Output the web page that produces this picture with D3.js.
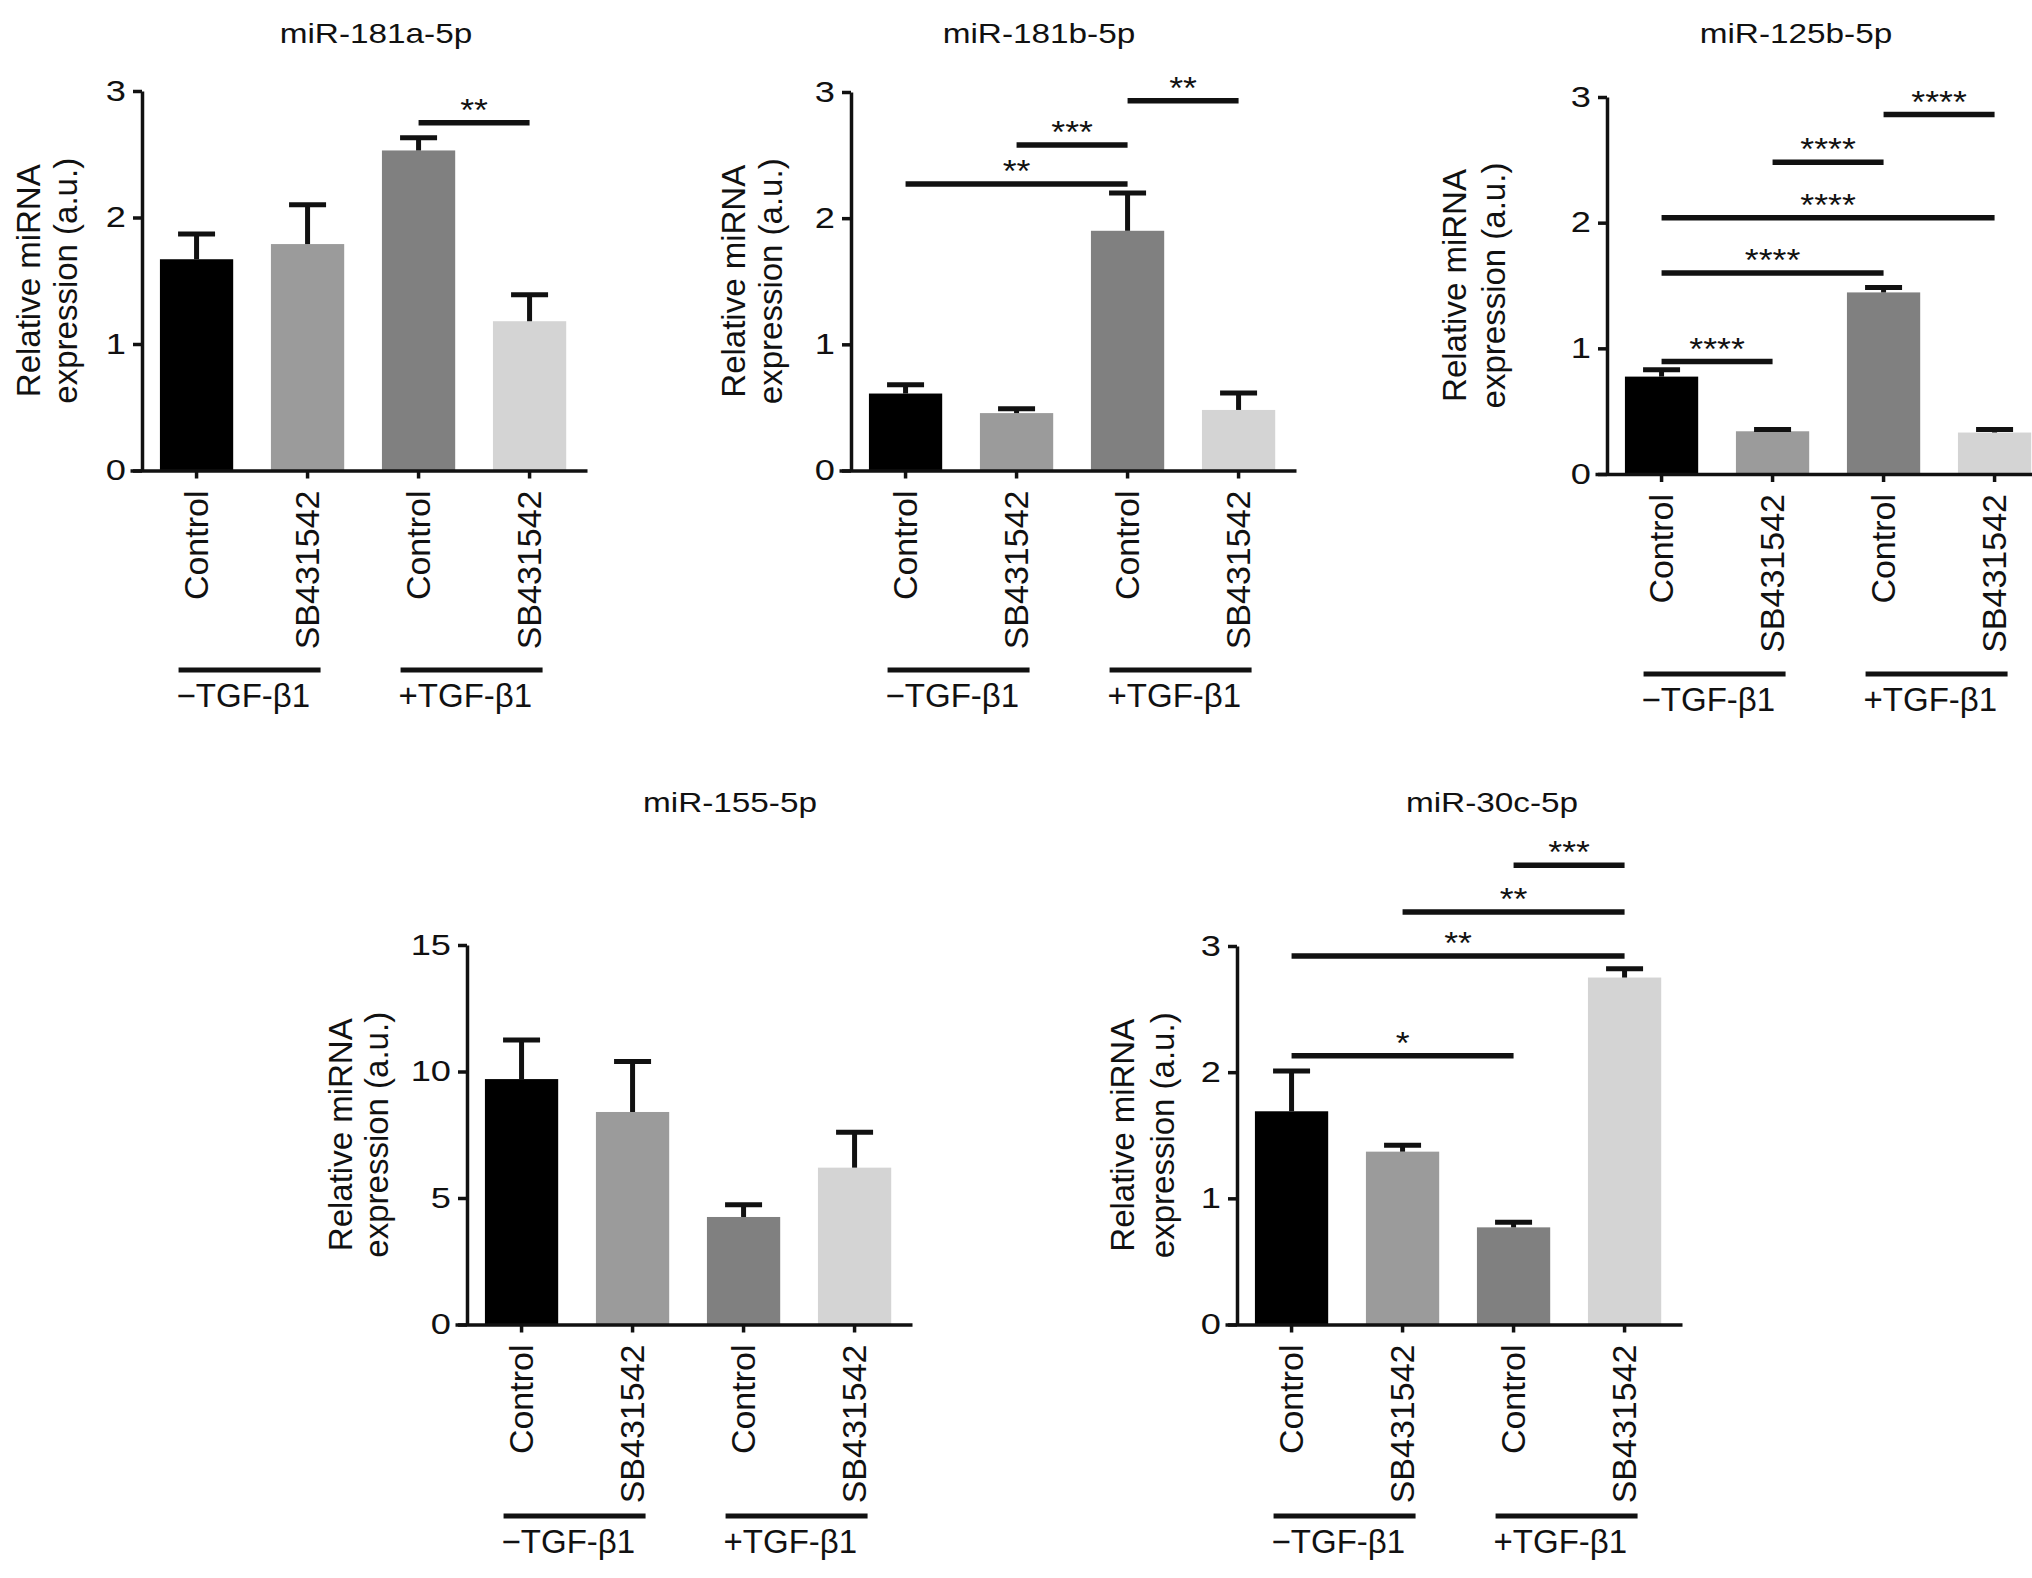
<!DOCTYPE html>
<html lang="en">
<head>
<meta charset="UTF-8">
<title>miRNA expression</title>
<script src="https://cdn.jsdelivr.net/npm/d3@7"></script>
<style>
  body { margin: 0; background: #fff; }
  svg text { font-family: "Liberation Sans", Arial, Helvetica, sans-serif; fill: #111; }
  .axis path, .axis line { stroke: #111; stroke-width: 3.5; fill: none; }
</style>
</head>
<body>
<script>
// data
const categories = ["Control", "SB431542", "Control", "SB431542"];
const groupLabels = ["\u2212TGF-\u03b21", "+TGF-\u03b21"];
const titles = ["miR-181a-5p", "miR-181b-5p", "miR-125b-5p", "miR-155-5p", "miR-30c-5p"];
const ticks3 = [0, 1, 2, 3];
const ticks15 = [0, 5, 10, 15];

const mean181a = [1.67, 1.79, 2.53, 1.18];
const sem181a  = [0.20, 0.31, 0.10, 0.21];
const sig181a  = [[2, 3, 2.75, "**"]];

const mean181b = [0.61, 0.455, 1.90, 0.48];
const sem181b  = [0.07, 0.035, 0.30, 0.135];
const sig181b  = [[2, 3, 2.93, "**"], [1, 2, 2.58, "***"], [0, 2, 2.27, "**"]];

const mean125b = [0.775, 0.34, 1.445, 0.33];
const sem125b  = [0.055, 0.015, 0.04, 0.025];
const sig125b  = [[2, 3, 2.86, "****"], [1, 2, 2.48, "****"], [0, 3, 2.04, "****"],
                  [0, 2, 1.60, "****"], [0, 1, 0.895, "****"]];

const mean155 = [9.7, 8.4, 4.25, 6.2];
const sem155  = [1.55, 2.0, 0.48, 1.4];
const sig155  = [];

const mean30c = [1.69, 1.37, 0.77, 2.75];
const sem30c  = [0.32, 0.05, 0.04, 0.07];
const sig30c  = [[2, 3, 3.64, "***"], [1, 3, 3.27, "**"], [0, 3, 2.92, "**"], [0, 2, 2.13, "*"]];

const barColors = ["#000000", "#9b9b9b", "#808080", "#d4d4d4"];

// panel placement
const panels = [
  {title: titles[0], mean: mean181a, sem: sem181a, sig: sig181a, ticks: ticks3,
   x: 142, y0: 470.5, yTop: 91, titleX: 376, titleY: 43, labelX: [28, 65], groupY: 670},
  {title: titles[1], mean: mean181b, sem: sem181b, sig: sig181b, ticks: ticks3,
   x: 851, y0: 470.5, yTop: 92, titleX: 1039, titleY: 43, labelX: [733, 770], groupY: 670},
  {title: titles[2], mean: mean125b, sem: sem125b, sig: sig125b, ticks: ticks3,
   x: 1607, y0: 474, yTop: 97, titleX: 1796, titleY: 43, labelX: [1454, 1493], groupY: 674},
  {title: titles[3], mean: mean155, sem: sem155, sig: sig155, ticks: ticks15,
   x: 467, y0: 1324.5, yTop: 945, titleX: 730, titleY: 812, labelX: [340, 376], groupY: 1516},
  {title: titles[4], mean: mean30c, sem: sem30c, sig: sig30c, ticks: ticks3,
   x: 1237, y0: 1324.5, yTop: 946, titleX: 1492, titleY: 812, labelX: [1122, 1162], groupY: 1516}
];

const svg = d3.select("body").append("svg")
  .attr("width", 2032).attr("height", 1578);
svg.append("rect").attr("width", 2032).attr("height", 1578).attr("fill", "#fff");

panels.forEach(p => {
  const g = svg.append("g");
  const idx = d3.range(p.mean.length);

  const x = d3.scaleBand().domain(idx)
    .range([p.x - 12, p.x + 445])
    .paddingInner(0.34).paddingOuter(0.2285).align(0.59);
  const y = d3.scaleLinear().domain([0, d3.max(p.ticks)]).range([p.y0, p.yTop]);
  const cx = i => x(i) + x.bandwidth() / 2;

  // bars
  g.selectAll(".bar").data(idx).enter().append("rect")
    .attr("x", i => x(i))
    .attr("y", i => y(p.mean[i]))
    .attr("width", x.bandwidth())
    .attr("height", i => y(0) - y(p.mean[i]))
    .attr("fill", i => barColors[i]);

  // upper error bars
  g.selectAll(".err").data(idx).enter().append("line")
    .attr("x1", cx).attr("x2", cx)
    .attr("y1", i => y(p.mean[i])).attr("y2", i => y(p.mean[i] + p.sem[i]))
    .attr("stroke", "#111").attr("stroke-width", 5);
  g.selectAll(".cap").data(idx).enter().append("line")
    .attr("x1", i => cx(i) - 18.5).attr("x2", i => cx(i) + 18.5)
    .attr("y1", i => y(p.mean[i] + p.sem[i])).attr("y2", i => y(p.mean[i] + p.sem[i]))
    .attr("stroke", "#111").attr("stroke-width", 5);

  // axes
  const yAxis = g.append("g").attr("class", "axis")
    .attr("transform", `translate(${p.x},0)`)
    .call(d3.axisLeft(y).tickValues(p.ticks).tickFormat(d3.format("d"))
      .tickSize(9).tickSizeOuter(0));
  // glyphs in the figure are drawn a bit wide
  yAxis.selectAll("text")
    .attr("x", 0)
    .attr("transform", "translate(-16,0) scale(1.25,1)")
    .style("font-size", "29px").attr("fill", "#111");

  const xAxis = g.append("g").attr("class", "axis")
    .attr("transform", `translate(0,${p.y0})`)
    .call(d3.axisBottom(x).tickSize(8).tickSizeOuter(0).tickFormat(i => categories[i]));
  xAxis.selectAll("text")
    .attr("transform", "rotate(-90)")
    .attr("text-anchor", "end")
    .attr("x", -20).attr("y", 0).attr("dy", "0.35em")
    .style("font-size", "34px").attr("fill", "#111");

  // significance brackets
  g.selectAll(".sig").data(p.sig).enter().append("line")
    .attr("x1", d => cx(d[0])).attr("x2", d => cx(d[1]))
    .attr("y1", d => y(d[2])).attr("y2", d => y(d[2]))
    .attr("stroke", "#111").attr("stroke-width", 5.5);
  g.selectAll(".star").data(p.sig).enter().append("text")
    .attr("transform", d => `translate(${(cx(d[0]) + cx(d[1])) / 2},${y(d[2]) - 2}) scale(1.15,1)`)
    .attr("text-anchor", "middle")
    .style("font-size", "31px")
    .text(d => d[3]);

  // treatment groups under the axis
  [[0, 1], [2, 3]].forEach((pair, k) => {
    const x1 = cx(pair[0]) - 18, x2 = cx(pair[1]) + 13;
    g.append("line")
      .attr("x1", x1).attr("x2", x2).attr("y1", p.groupY).attr("y2", p.groupY)
      .attr("stroke", "#111").attr("stroke-width", 5);
    g.append("text")
      .attr("x", x1 - 2).attr("y", p.groupY + 37)
      .style("font-size", "33px")
      .text(groupLabels[k]);
  });

  // y label, two lines
  const yMid = (p.y0 + p.yTop) / 2;
  ["Relative miRNA", "expression (a.u.)"].forEach((t, k) => {
    g.append("text")
      .attr("transform", `translate(${p.labelX[k]},${yMid}) rotate(-90)`)
      .attr("text-anchor", "middle").attr("dy", "0.35em")
      .style("font-size", "33px")
      .text(t);
  });

  // title
  g.append("text")
    .attr("transform", `translate(${p.titleX},${p.titleY}) scale(1.19,1)`)
    .attr("text-anchor", "middle")
    .style("font-size", "28px")
    .text(p.title);
});
</script>
</body>
</html>
